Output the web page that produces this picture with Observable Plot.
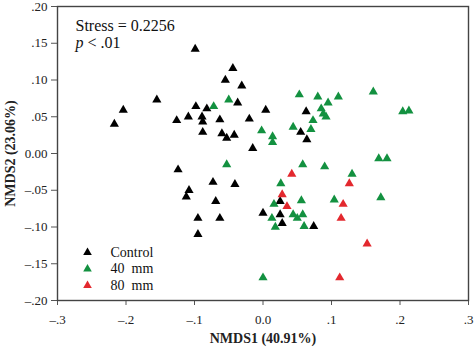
<!DOCTYPE html>
<html>
<head>
<meta charset="utf-8">
<script src="https://cdn.jsdelivr.net/npm/d3@7"></script>
<script src="https://cdn.jsdelivr.net/npm/@observablehq/plot@0.6"></script>
<style>
  html, body { margin: 0; padding: 0; background: white; }
  g[aria-label="x-axis label"] text, g[aria-label="y-axis label"] text { font-weight: bold; font-size: 14px; }
</style>
</head>
<body>
<div id="chart"></div>
<script>
const groups = ["Control", "40  mm", "80  mm"];
const groupColors = ["#000000", "#139140", "#e3282e"];

const controlX = [-0.217,-0.204,-0.155,-0.099,-0.044,-0.055,-0.031,-0.037,-0.098,-0.082,0.004,0.063,-0.109,-0.089,-0.088,-0.126,-0.063,-0.020,-0.088,-0.060,-0.053,-0.042,0.055,0.064,-0.015,-0.124,-0.073,-0.041,-0.108,-0.112,-0.069,0.025,0.000,0.025,-0.095,-0.063,0.028,0.074,-0.095];
const controlY = [0.040,0.059,0.073,0.142,0.116,0.100,0.092,0.069,0.064,0.061,0.059,0.057,0.050,0.050,0.043,0.045,0.046,0.047,0.029,0.027,0.021,0.025,0.029,0.019,0.007,-0.022,-0.039,-0.042,-0.050,-0.059,-0.065,-0.065,-0.081,-0.083,-0.088,-0.088,-0.095,-0.099,-0.110];

const mm40X = [-0.072,-0.050,0.053,0.080,0.095,0.110,0.161,0.085,0.088,0.092,0.073,0.044,0.070,0.204,0.213,-0.002,0.014,0.014,-0.053,0.058,0.090,0.130,0.169,0.181,0.026,0.016,0.056,0.104,0.172,0.044,0.058,0.013,0.050,0.018,0.060,0.000];
const mm40Y = [0.064,0.073,0.080,0.077,0.069,0.077,0.084,0.061,0.054,0.050,0.045,0.036,0.033,0.057,0.058,0.031,0.023,0.015,-0.015,-0.015,-0.018,-0.028,-0.007,-0.007,-0.041,-0.069,-0.064,-0.063,-0.060,-0.083,-0.083,-0.088,-0.088,-0.100,-0.099,-0.169];

const mm80X = [0.042,0.028,0.035,0.126,0.117,0.114,0.152,0.112];
const mm80Y = [-0.028,-0.056,-0.072,-0.041,-0.069,-0.088,-0.123,-0.169];

const xTicks = [-0.3,-0.2,-0.1,0,0.1,0.2,0.3];
const yTicks = [-0.2,-0.15,-0.1,-0.05,0,0.05,0.1,0.15,0.2];
const stressText = "Stress = 0.2256";
const pSymbol = "p";
const pRest = "< .01";

const fmt = (digits) => (d) => {
  if (Math.abs(d) < 1e-9) return (0).toFixed(digits);
  const s = Math.abs(d).toFixed(digits).replace(/^0/, "");
  return (d < 0 ? "\u2013" : "") + s;
};

const data = [];
controlX.forEach((x, i) => data.push({x, y: controlY[i], group: groups[0]}));
mm40X.forEach((x, i) => data.push({x, y: mm40Y[i], group: groups[1]}));
mm80X.forEach((x, i) => data.push({x, y: mm80Y[i], group: groups[2]}));

const legendMarks = groups.flatMap((g, i) => [
  Plot.dot([g], {frameAnchor: "bottom-left", dx: 30, dy: -48 + i * 16.5, fill: groupColors[i], symbol: "triangle", r: 3.2}),
  Plot.text([g], {frameAnchor: "bottom-left", dx: 53, dy: -48 + i * 16.5, text: (d) => d, textAnchor: "start", lineAnchor: "middle", fontSize: 14, fill: "#111"})
]);

const chart = Plot.plot({
  width: 474,
  height: 347,
  marginLeft: 57,
  marginRight: 6,
  marginTop: 6,
  marginBottom: 47,
  style: {fontFamily: "'Liberation Serif', 'Times New Roman', serif", fontSize: "13px", color: "#222", background: "white"},
  x: {domain: [-0.3, 0.3]},
  y: {domain: [-0.2, 0.2]},
  color: {domain: groups, range: groupColors},
  marks: [
    Plot.axisX({ticks: xTicks, tickFormat: fmt(1), tickSize: 5, tickPadding: 9, fontSize: 13, stroke: "#555",
      label: "NMDS1 (40.91%)", labelAnchor: "center", labelArrow: "none", labelOffset: 42}),
    Plot.axisY({ticks: yTicks, tickFormat: fmt(2), tickSize: 6, tickPadding: 4, fontSize: 13, stroke: "#555",
      label: "NMDS2 (23.06%)", labelAnchor: "center", labelArrow: "none", labelOffset: 52}),
    Plot.frame({stroke: "#444", strokeWidth: 1.4}),
    Plot.dot(data, {x: "x", y: "y", fill: "group", symbol: "triangle", r: 3.4}),
    ...legendMarks,
    Plot.text([stressText], {frameAnchor: "top-left", dx: 18, dy: 13, text: (d) => d, textAnchor: "start", lineAnchor: "top", fontSize: 16, fill: "#111"}),
    Plot.text([pSymbol], {frameAnchor: "top-left", dx: 18, dy: 30, text: (d) => d, textAnchor: "start", lineAnchor: "top", fontSize: 16, fontStyle: "italic", fill: "#111"}),
    Plot.text([pRest], {frameAnchor: "top-left", dx: 30, dy: 30, text: (d) => d, textAnchor: "start", lineAnchor: "top", fontSize: 16, fill: "#111"})
  ]
});

document.getElementById("chart").appendChild(chart);
</script>
</body>
</html>
